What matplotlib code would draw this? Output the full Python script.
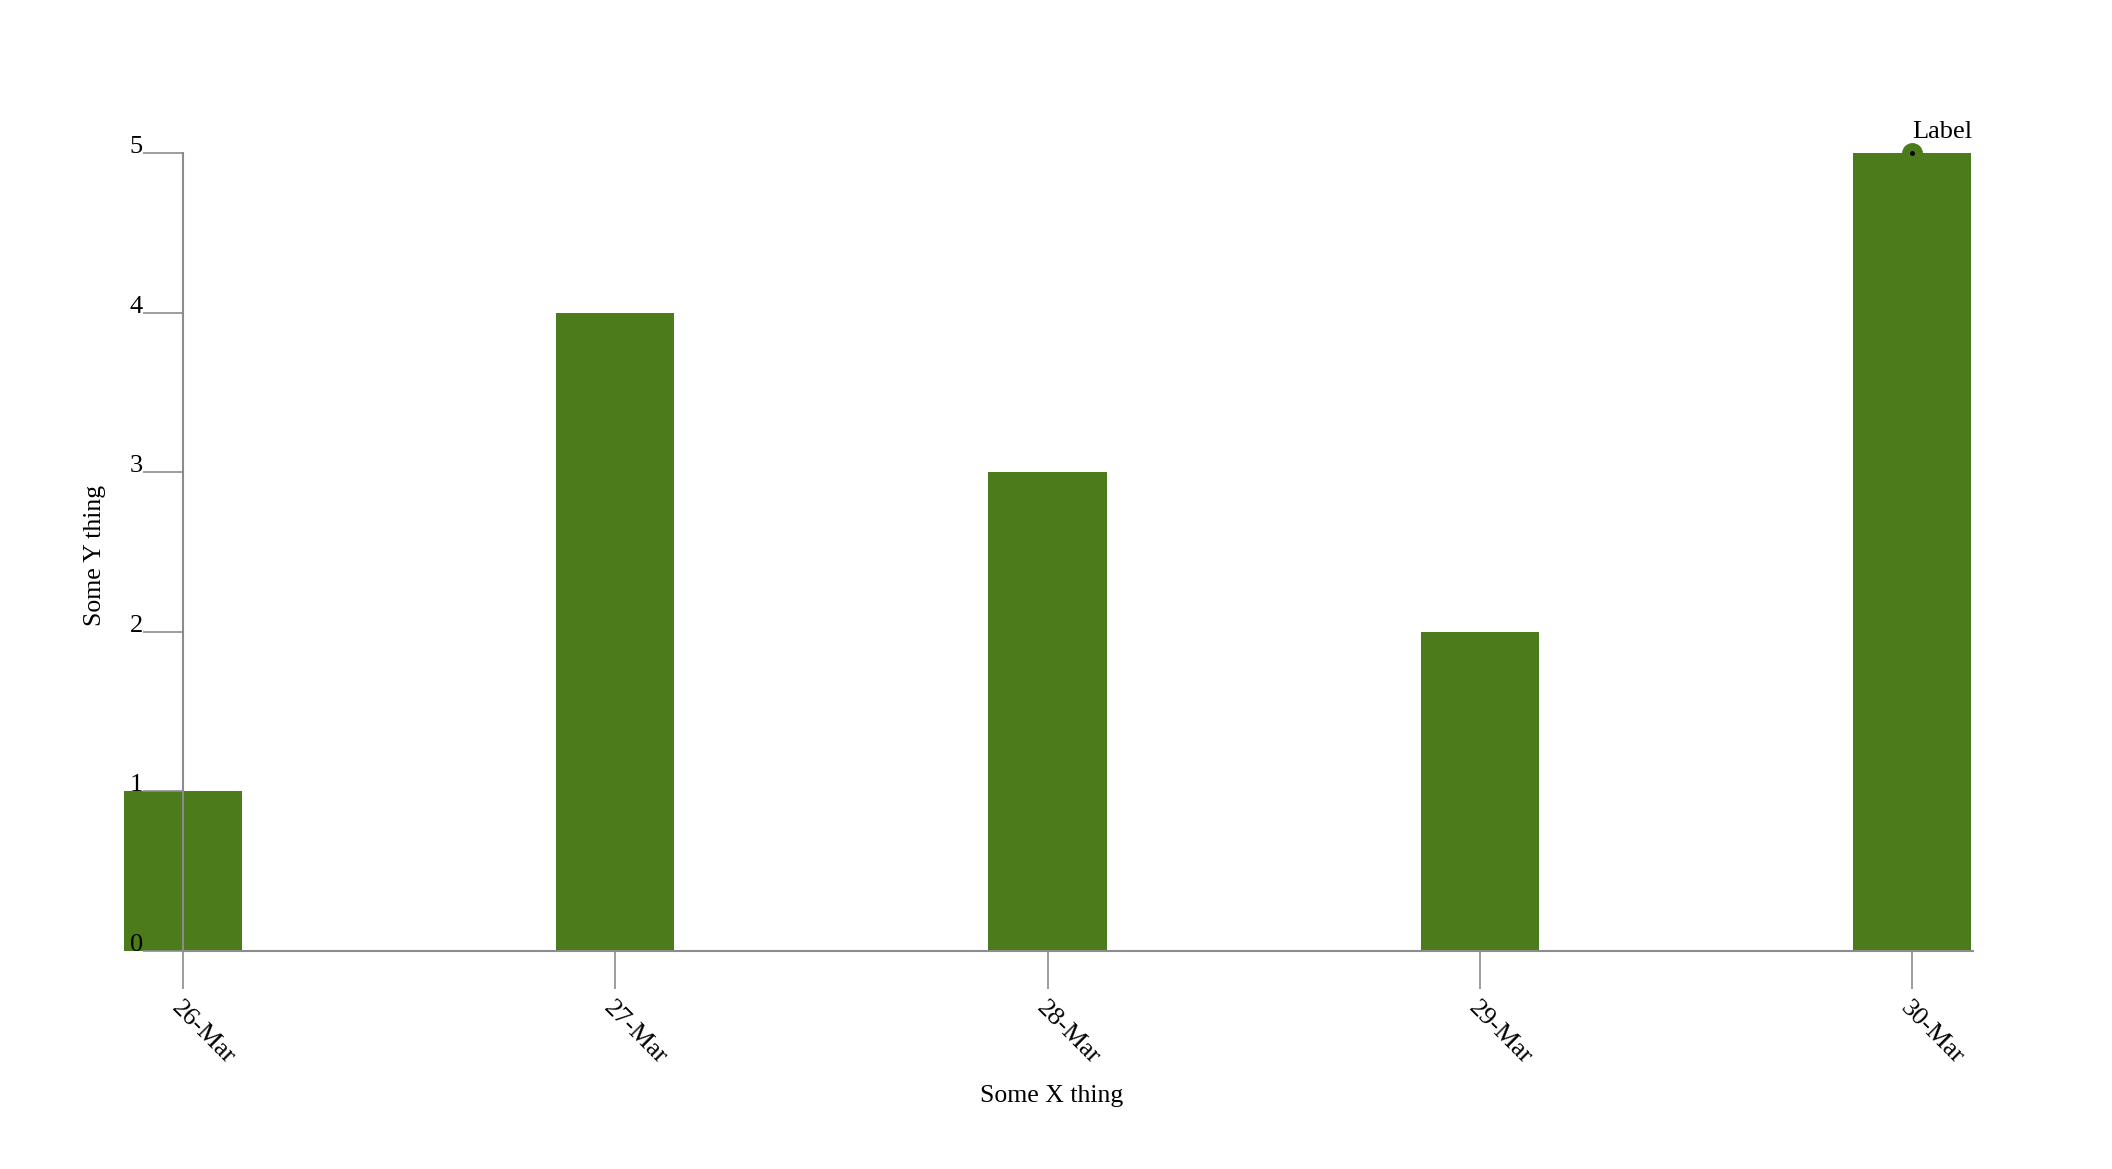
import matplotlib.pyplot as plt

dates = ['26-Mar', '27-Mar', '28-Mar', '29-Mar', '30-Mar']
values = [1, 4, 3, 2, 5]
y_ticks = [0, 1, 2, 3, 4, 5]

bar_color = '#4b7b1b'
axis_color = '#8c8c8c'
plt.rcParams['font.family'] = ['Liberation Serif', 'DejaVu Serif']

W, H = 2112, 1169
fig = plt.figure(figsize=(W / 100, H / 100), dpi=100)

# axes placed in pixels: x=0 at 183px, x=4 at 1912px, y=0 at 951px, y=5 at 153px
px_per_x = (1912 - 183) / 4
x_left, x_right = -0.35, 4.14
left_px = 183 + x_left * px_per_x
right_px = 183 + x_right * px_per_x
ax = fig.add_axes([left_px / W, (H - 951) / H, (right_px - left_px) / W, (951 - 153) / H])

xs = list(range(len(dates)))
ax.bar(xs, values, width=0.274, color=bar_color, zorder=1)

ax.set_xlim(x_left, x_right)
ax.set_ylim(0, 5)

for side in ['top', 'right']:
    ax.spines[side].set_visible(False)
ax.spines['left'].set_position(('data', 0))
ax.spines['bottom'].set_bounds(0, x_right)
for side in ['left', 'bottom']:
    ax.spines[side].set_color(axis_color)
    ax.spines[side].set_linewidth(1.5)

fs = 19
ax.set_yticks(y_ticks)
ax.set_yticklabels([str(t) for t in y_ticks])
ax.tick_params(axis='y', direction='out', length=29, width=1.2, color=axis_color,
               labelsize=fs, pad=0)
for lab in ax.get_yticklabels():
    lab.set_va('baseline')

ax.set_xticks(xs)
ax.set_xticklabels(dates)
ax.tick_params(axis='x', direction='out', length=27, width=1.2, color=axis_color,
               labelsize=fs, pad=6)
for lab in ax.get_xticklabels():
    lab.set_rotation(-45)
    lab.set_ha('left')
    lab.set_va('top')
    lab.set_rotation_mode('anchor')

fig.text(95 / W, 1 - 555 / H, 'Some Y thing', rotation=90, ha='center', va='center', fontsize=18.5)
fig.text(1052 / W, 1 - 1096 / H, 'Some X thing', ha='center', va='center', fontsize=18.5)

# marker and label on the last bar
ax.plot([xs[-1]], [values[-1]], 'o', color=bar_color, markersize=14, clip_on=False, zorder=4)
ax.plot([xs[-1]], [values[-1]], 'o', color='black', markersize=2.5, clip_on=False, zorder=5)
ax.annotate('Label', (xs[-1], values[-1]), xytext=(0, 7), textcoords='offset points',
            ha='left', va='bottom', fontsize=fs, annotation_clip=False)

fig.savefig('out.png', dpi=100)
